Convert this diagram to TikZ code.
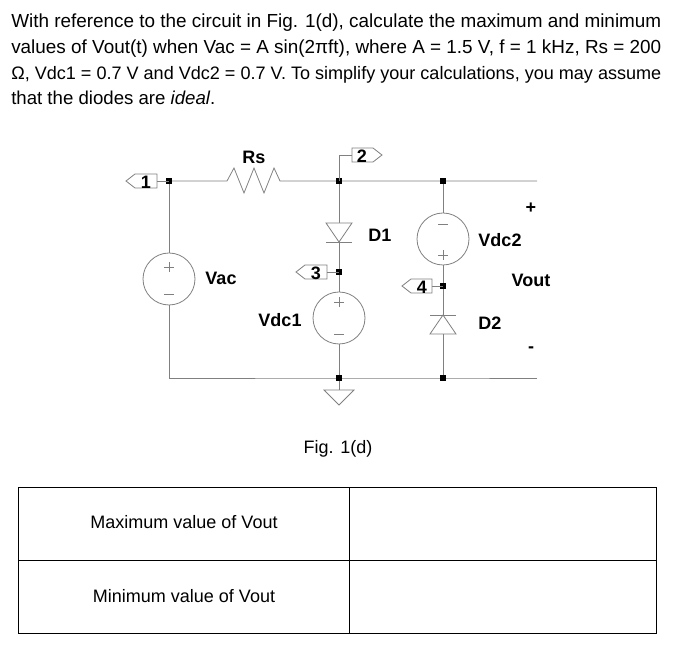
\documentclass[tikz,border=0pt]{standalone}
\usepackage{fontspec}
\setmainfont{Liberation Sans}
\begin{document}
\begin{tikzpicture}[x=0.75pt,y=-0.75pt,
  wire/.style={draw=black!50,line width=0.6pt},
  dot/.style={fill=black,minimum size=4.5pt,inner sep=0pt,draw=none,rectangle},
  lbl/.style={font=\fontsize{13.5}{15}\selectfont\bfseries,inner sep=0pt},
  flagl/.style={draw=black!50,line width=0.6pt,fill=white},
  para/.style={anchor=base west,inner sep=0pt,font=\fontsize{12}{14}\selectfont},
  tt/.style={inner sep=0pt,font=\fontsize{13.5}{16}\selectfont}]
\useasboundingbox (0,0) rectangle (683,648);
% paragraph
\node[para] (p1) at (11,28) {\resizebox{650\dimexpr0.75pt\relax}{!}{With reference to the circuit in Fig. 1(d), calculate the maximum and minimum}};
\node[para] (p2) at (11,54) {\resizebox{650\dimexpr0.75pt\relax}{!}{values of Vout(t) when Vac = A sin(2πft), where A = 1.5 V, f = 1 kHz, Rs = 200}};
\node[para] (p3) at (11,80) {\resizebox{650\dimexpr0.75pt\relax}{!}{Ω, Vdc1 = 0.7 V and Vdc2 = 0.7 V. To simplify your calculations, you may assume}};
\node[para] (p4) at (11,105) {\resizebox{204\dimexpr0.75pt\relax}{!}{that the diodes are \textit{ideal}.}};
% nodes
\coordinate (n1) at (169,181);
\coordinate (n2) at (339,181);
\coordinate (n5) at (443,181);
\coordinate (tr) at (537,181);
\coordinate (g1) at (169,378);
\coordinate (g2) at (339,378);
\coordinate (g3) at (443,378);
\coordinate (br) at (537,378);
\coordinate (n3) at (339,272);
\coordinate (n4) at (443,286);
% top wire with resistor
\draw[wire] (n1) -- (227,181) -- (234,168) -- (244,193) -- (254,168) -- (264,193) -- (274,168) -- (280,181) -- (n2) -- (n5) -- (tr);
\draw[wire] (n1) -- (g1) -- (g2) -- (g3) -- (br);
% Vac
\node[draw=black!50,line width=0.6pt,fill=white,circle,minimum size=52pt*0.75,inner sep=0pt] (vac) at (169,279) {};
\draw[wire] (169,262)--(169,272) (164,267)--(174,267) (164,294)--(174,294);
% D1
\draw[wire] (n2) -- (n3);
\draw[wire,fill=white] (326,223) -- (352,223) -- (339,242) -- cycle;
\draw[wire] (326,242) -- (352,242);
% Vdc1
\draw[wire] (n3) -- (g2);
\node[draw=black!50,line width=0.6pt,fill=white,circle,minimum size=52pt*0.75,inner sep=0pt] (vdc1) at (339,318) {};
\draw[wire] (339,297)--(339,307) (334,302)--(344,302) (334,334)--(344,334);
% Vdc2
\draw[wire] (n5) -- (g3);
\node[draw=black!50,line width=0.6pt,fill=white,circle,minimum size=52pt*0.75,inner sep=0pt] (vdc2) at (443,239) {};
\draw[wire] (438,224)--(448,224) (443,250)--(443,260) (438,255)--(448,255);
% D2
\draw[wire,fill=white] (430,334) -- (456,334) -- (443,315) -- cycle;
\draw[wire] (430,315) -- (456,315);
% ground
\draw[wire] (g2) -- (339,390);
\draw[wire] (324,390) -- (354,390) -- (339,405) -- cycle;
% dots
\foreach \p in {n1,n2,n5,g2,g3,n3,n4} \node[dot] at (\p) {};
% flags
\draw[flagl] (157,174) -- (135,174) -- (126,181) -- (135,188) -- (157,188) -- cycle;
\node[lbl] (f1) at (146,182) {1};
\draw[wire] (157,181) -- (n1);
\draw[wire] (n2) -- (339,155) -- (352,155);
\draw[flagl] (352,148) -- (373,148) -- (382,155) -- (373,162) -- (352,162) -- cycle;
\node[lbl] (f2) at (362,156) {2};
\draw[flagl] (327,265) -- (305,265) -- (296,272) -- (305,279) -- (327,279) -- cycle;
\node[lbl] (f3) at (316,273) {3};
\draw[wire] (327,272) -- (n3);
\draw[flagl] (432,279) -- (411,279) -- (402,286) -- (411,293) -- (432,293) -- cycle;
\node[lbl] (f4) at (422,287) {4};
\draw[wire] (432,286) -- (n4);
% labels
\node[lbl] (lrs) at (254,157) {Rs};
\node[lbl] (ld1) at (380,235) {D1};
\node[lbl] (lvac) at (221,278) {Vac};
\node[lbl] (lvdc1) at (280,320) {Vdc1};
\node[lbl] (lvdc2) at (500,240) {Vdc2};
\node[lbl] (ld2) at (490,323) {D2};
\node[lbl] (lvout) at (531,280) {Vout};
\node[lbl] (lp) at (531,208) {+};
\node[lbl] (lm) at (531,350) {-};
\node[tt] (fig) at (338,449) {Fig. 1(d)};
% table
\draw[line width=0.6pt] (18,487) rectangle (656,633) (18,560) -- (656,560) (349,487) -- (349,633);
\node[tt] (mx) at (184,522) {Maximum value of Vout};
\node[tt] (mn) at (184,596) {Minimum value of Vout};
\end{tikzpicture}
\end{document}
